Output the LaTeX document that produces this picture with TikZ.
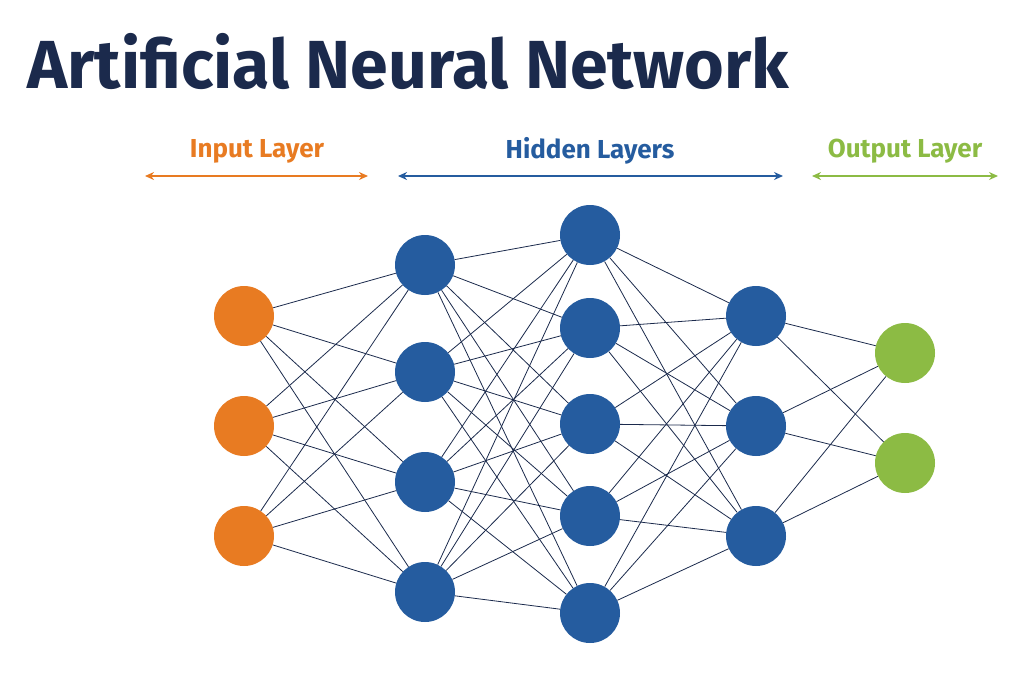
\documentclass[tikz,border=0pt]{standalone}
\usepackage{fontspec}
\setmainfont{Fira Sans}
\usetikzlibrary{arrows.meta}
\definecolor{navy}{HTML}{1B2A4C}
\definecolor{inorange}{HTML}{E87B22}
\definecolor{hidblue}{HTML}{255C9F}
\definecolor{outgreen}{HTML}{8CBB44}
\begin{document}
\begin{tikzpicture}[x=1pt,y=-1pt,
  neuron/.style={circle,minimum size=60pt,inner sep=0pt},
  link/.style={draw=navy,line width=.8pt},
  span/.style={line width=1.8pt,{Stealth[length=9pt,width=8pt]}-{Stealth[length=9pt,width=8pt]}},
  head/.style={font=\bfseries\fontsize{26}{30}\selectfont}]
\useasboundingbox (0,0) rectangle (1027,672);

\node[anchor=west,text=navy,font=\bfseries\fontsize{68}{76}\selectfont] (title) at (24,62) {Artificial Neural Network};

\node[head,text=inorange] (inlab) at (257,151) {Input Layer};
\node[head,text=hidblue] (hidlab) at (590,151) {Hidden Layers};
\node[head,text=outgreen] (outlab) at (905,151) {Output Layer};
\coordinate (ia) at (145,176); \coordinate (ib) at (368,176);
\coordinate (ha) at (398,176); \coordinate (hb) at (783,176);
\coordinate (oa) at (812,176); \coordinate (ob) at (998,176);
\draw[span,inorange] (ia) -- (ib);
\draw[span,hidblue] (ha) -- (hb);
\draw[span,outgreen] (oa) -- (ob);

% layers
\foreach \y [count=\i] in {316,426,536}
  \node[neuron,fill=inorange] (in\i) at (244,\y) {};
\foreach \y [count=\i] in {265,372,482,592}
  \node[neuron,fill=hidblue] (ha\i) at (425,\y) {};
\foreach \y [count=\i] in {235,328,424,516,613}
  \node[neuron,fill=hidblue] (hb\i) at (590,\y) {};
\foreach \y [count=\i] in {316,426,536}
  \node[neuron,fill=hidblue] (hc\i) at (756,\y) {};
\foreach \y [count=\i] in {353,463}
  \node[neuron,fill=outgreen] (out\i) at (905,\y) {};

% connections
\foreach \a in {1,...,3} \foreach \b in {1,...,4}
  \draw[link] (in\a) -- (ha\b);
\foreach \a in {1,...,4} \foreach \b in {1,...,5}
  \draw[link] (ha\a) -- (hb\b);
\foreach \a in {1,...,5} \foreach \b in {1,...,3}
  \draw[link] (hb\a) -- (hc\b);
\foreach \a in {1,...,3} \foreach \b in {1,2}
  \draw[link] (hc\a) -- (out\b);
\end{tikzpicture}
\end{document}
